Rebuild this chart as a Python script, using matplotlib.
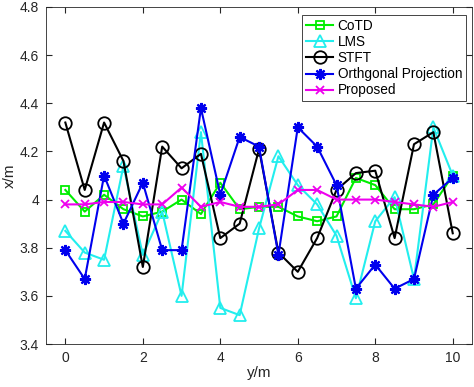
import numpy as np
import matplotlib
matplotlib.use('Agg')
import matplotlib.pyplot as plt
from matplotlib.ticker import FuncFormatter

plt.rcParams['font.family'] = ['Liberation Sans', 'DejaVu Sans']

# posições ao longo do eixo y (m)
y_pos = [0, 0.5, 1, 1.5, 2, 2.5, 3, 3.5, 4, 4.5, 5, 5.5, 6, 6.5, 7, 7.5, 8, 8.5, 9, 9.5, 10]

cotd = [4.04, 3.95, 4.02, 3.96, 3.93, 3.95, 4.00, 3.94, 4.07, 3.96, 3.97,
        3.97, 3.93, 3.91, 3.93, 4.09, 4.06, 3.96, 3.96, 3.98, 4.10]
lms = [3.87, 3.78, 3.75, 4.14, 3.77, 3.95, 3.60, 4.28, 3.55, 3.52, 3.88,
       4.18, 4.06, 3.98, 3.85, 3.59, 3.91, 4.01, 3.67, 4.30, 4.10]
stft = [4.32, 4.04, 4.32, 4.16, 3.72, 4.22, 4.13, 4.19, 3.84, 3.90, 4.21,
        3.78, 3.70, 3.84, 4.04, 4.11, 4.12, 3.84, 4.23, 4.28, 3.86]
orth = [3.79, 3.67, 4.10, 3.90, 4.07, 3.79, 3.79, 4.38, 4.02, 4.26, 4.22,
        3.77, 4.30, 4.22, 4.06, 3.63, 3.73, 3.63, 3.67, 4.02, 4.09]
proposed = [3.98, 3.98, 3.99, 3.99, 3.98, 3.98, 4.05, 3.97, 3.99, 3.97, 3.97,
            3.98, 4.04, 4.04, 4.00, 4.00, 4.00, 3.99, 3.98, 3.97, 3.99]

fig = plt.figure(figsize=(4.74, 3.87), dpi=100)
ax = fig.add_axes([0.097, 0.111, 0.899, 0.871])

ax.plot(y_pos, cotd, color='#00ee00', marker='s', mfc='none', ms=6, mew=1.3, lw=1.5, label='CoTD')
ax.plot(y_pos, lms, color='#22eeee', marker='^', mfc='none', ms=8, mew=1.3, lw=1.5, label='LMS')
ax.plot(y_pos, stft, color='black', marker='o', mfc='none', ms=9, mew=1.3, lw=1.5, label='STFT')
ax.plot(y_pos, orth, color='#0000ee', marker=(8, 2, 0), ms=8, mew=1.6, lw=1.5, label='Orthgonal Projection')
ax.plot(y_pos, proposed, color='#ee00ee', marker='x', ms=6, mew=1.3, lw=1.5, label='Proposed')

ax.set_xlim(-0.5, 10.5)
ax.set_ylim(3.4, 4.8)
ax.set_xticks(np.arange(0, 11, 2))
ax.set_yticks(np.arange(3.4, 4.81, 0.2))
ax.yaxis.set_major_formatter(FuncFormatter(lambda v, p: '%g' % round(v, 1)))
ax.tick_params(direction='in', top=True, right=True, labelsize=10, colors='#262626', length=4, pad=5)
for s in ax.spines.values():
    s.set_color('#262626')
    s.set_linewidth(0.6)

ax.set_xlabel('y/m', fontsize=11, color='#262626', labelpad=1)
ax.set_ylabel('x/m', fontsize=11, color='#262626', labelpad=2)

leg = ax.legend(loc='upper right', bbox_to_anchor=(0.986, 0.976), borderaxespad=0,
                fontsize=9.8, fancybox=False, edgecolor='#262626', framealpha=1,
                handlelength=2.0, handletextpad=0.3, borderpad=0.3, labelspacing=0.15)
leg.get_frame().set_linewidth(0.6)

plt.savefig('out.png', dpi=100)
